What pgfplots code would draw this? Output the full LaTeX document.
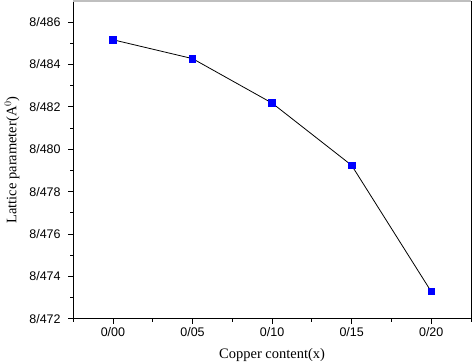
\documentclass[border=0pt]{standalone}
\usepackage{pgfplots}
\pgfplotsset{compat=1.18}
\usetikzlibrary{calc}
\usepackage{fontspec}
\setmainfont{Liberation Serif}
\newfontfamily\ticksf{Liberation Sans}
\begin{document}
\begin{tikzpicture}[x=1bp,y=1bp]
\begin{axis}[
  scale only axis,
  width=397bp, height=317bp,
  xmin=-0.5, xmax=4.5,
  ymin=8.472, ymax=8.487,
  xtick={0,1,2,3,4},
  xticklabels={0/00,0/05,0/10,0/15,0/20},
  minor xtick={-0.5,0.5,1.5,2.5,3.5,4.5},
  ytick={8.472,8.474,8.476,8.478,8.480,8.482,8.484,8.486},
  yticklabels={8/472,8/474,8/476,8/478,8/480,8/482,8/484,8/486},
  minor ytick={8.473,8.475,8.477,8.479,8.481,8.483,8.485},
  tick align=outside,
  xtick pos=bottom, ytick pos=left,
  major tick length=5bp, minor tick length=3bp,
  tick style={black, line width=0.8pt},
  axis line style={line width=0.9pt},
  ticklabel style={font=\ticksf\fontsize{12.5}{14}\selectfont},
  yticklabel style={xshift=-4bp},
  /pgf/number format/assume math mode=true,
  xlabel={Copper content(x)},
  ylabel={Lattice parameter(A$^{0}$)},
  label style={font=\fontsize{14.5}{16}\selectfont},
  xlabel style={at={(axis description cs:0.5,-0.1136)}, anchor=center},
  ylabel style={at={(axis description cs:-0.1537,0.5)}, anchor=center},
]
\addplot[black, line width=0.8pt, mark=square*, mark size=3.3bp,
  mark options={fill=blue, draw=blue}]
  coordinates {(0,8.48517) (1,8.48428) (2,8.48218) (3,8.47924) (4,8.47328)};
\end{axis}
\draw[black!25, line width=1.6pt] (current axis.north west) -- (current axis.north east);
\pgfresetboundingbox
\path ($(current axis.south west)+(-73bp,-45bp)$) rectangle ($(current axis.north east)+(3bp,1bp)$);
\end{tikzpicture}
\end{document}
